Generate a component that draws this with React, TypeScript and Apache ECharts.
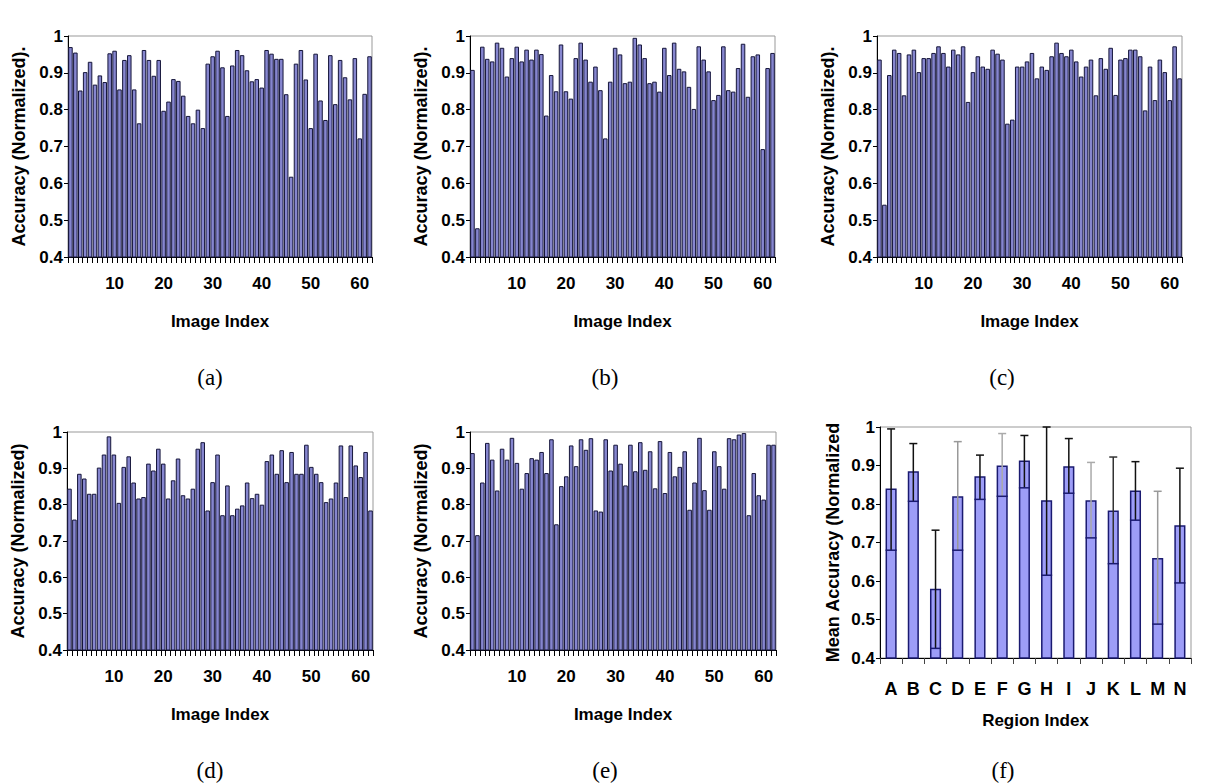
import { useEffect, useRef } from 'react';
import * as echarts from 'echarts';

// Accuracy per image (panels a-e), 62 images each
const accuracyA = [
  0.97, 0.955, 0.852, 0.902, 0.93, 0.868, 0.893, 0.875, 0.953, 0.96,
  0.855, 0.935, 0.948, 0.855, 0.763, 0.962, 0.935, 0.892, 0.935, 0.797,
  0.822, 0.883, 0.878, 0.838, 0.783, 0.763, 0.8, 0.75, 0.925, 0.945,
  0.96, 0.915, 0.783, 0.92, 0.962, 0.948, 0.907, 0.877, 0.883, 0.86,
  0.962, 0.952, 0.938, 0.938, 0.842, 0.618, 0.925, 0.962, 0.882, 0.75,
  0.952, 0.825, 0.772, 0.948, 0.815, 0.935, 0.888, 0.828, 0.94, 0.722,
  0.843, 0.945,
];
const accuracyB = [
  0.908, 0.478, 0.971, 0.938, 0.931, 0.982, 0.968, 0.89, 0.94, 0.971,
  0.931, 0.963, 0.936, 0.963, 0.951, 0.784, 0.894, 0.85, 0.977, 0.85,
  0.83, 0.94, 0.982, 0.936, 0.876, 0.917, 0.853, 0.722, 0.876, 0.968,
  0.95, 0.872, 0.876, 0.995, 0.977, 0.94, 0.872, 0.876, 0.849, 0.968,
  0.894, 0.982, 0.911, 0.904, 0.862, 0.802, 0.972, 0.936, 0.904, 0.826,
  0.84, 0.972, 0.853, 0.849, 0.913, 0.979, 0.835, 0.945, 0.95, 0.693,
  0.913, 0.954,
];
const accuracyC = [
  0.936, 0.542, 0.894, 0.963, 0.954, 0.839, 0.95, 0.963, 0.902, 0.94,
  0.94, 0.954, 0.972, 0.954, 0.917, 0.963, 0.95, 0.972, 0.821, 0.902,
  0.945, 0.917, 0.911, 0.963, 0.952, 0.936, 0.762, 0.773, 0.917, 0.917,
  0.931, 0.954, 0.885, 0.917, 0.908, 0.945, 0.982, 0.954, 0.945, 0.963,
  0.931, 0.89, 0.917, 0.936, 0.839, 0.94, 0.911, 0.968, 0.84, 0.936,
  0.94, 0.963, 0.963, 0.945, 0.798, 0.917, 0.826, 0.936, 0.902, 0.826,
  0.972, 0.885,
];
const accuracyD = [
  0.844, 0.759, 0.885, 0.872, 0.83, 0.83, 0.902, 0.938, 0.988, 0.938,
  0.805, 0.904, 0.933, 0.861, 0.817, 0.821, 0.913, 0.894, 0.954, 0.913,
  0.817, 0.867, 0.927, 0.826, 0.817, 0.844, 0.954, 0.972, 0.784, 0.862,
  0.938, 0.771, 0.853, 0.771, 0.789, 0.798, 0.861, 0.818, 0.83, 0.8,
  0.92, 0.938, 0.885, 0.95, 0.862, 0.945, 0.885, 0.885, 0.965, 0.904,
  0.885, 0.862, 0.807, 0.817, 0.861, 0.963, 0.821, 0.963, 0.908, 0.876,
  0.945, 0.784,
];
const accuracyE = [
  0.942, 0.716, 0.861, 0.97, 0.924, 0.839, 0.954, 0.924, 0.984, 0.915,
  0.844, 0.887, 0.928, 0.924, 0.945, 0.887, 0.98, 0.746, 0.851, 0.878,
  0.963, 0.906, 0.98, 0.951, 0.983, 0.784, 0.781, 0.98, 0.894, 0.965,
  0.913, 0.853, 0.965, 0.892, 0.972, 0.896, 0.947, 0.845, 0.975, 0.832,
  0.945, 0.878, 0.904, 0.947, 0.786, 0.861, 0.984, 0.84, 0.786, 0.947,
  0.906, 0.844, 0.983, 0.98, 0.993, 0.997, 0.771, 0.887, 0.826, 0.814,
  0.965, 0.965,
];
const imageIndex = accuracyA.map((_, i) => String(i + 1));

// Panel (f): mean accuracy per region with spread
const regionLabels = ['A', 'B', 'C', 'D', 'E', 'F', 'G', 'H', 'I', 'J', 'K', 'L', 'M', 'N'];
const regionMean = [0.84, 0.885, 0.58, 0.82, 0.872, 0.9, 0.913, 0.81, 0.898, 0.81, 0.783, 0.835, 0.66, 0.745];
const regionLower = [0.68, 0.807, 0.425, 0.68, 0.812, 0.82, 0.842, 0.615, 0.828, 0.712, 0.645, 0.758, 0.488, 0.595];
const regionUpper = [0.995, 0.957, 0.732, 0.962, 0.927, 0.983, 0.978, 1.0, 0.97, 0.908, 0.922, 0.91, 0.833, 0.893];
const whiskerColor = ['#111', '#111', '#111', '#999', '#111', '#aaa', '#111', '#111', '#111', '#aaa', '#333', '#111', '#999', '#111'];

const FONT = 'Liberation Sans, Arial, sans-serif';

const panels = [
  { values: accuracyA, yName: 'Accuracy (Normalized).' },
  { values: accuracyB, yName: 'Accuracy (Normalized).' },
  { values: accuracyC, yName: 'Accuracy (Normalized).' },
  { values: accuracyD, yName: 'Accuracy (Normalized)' },
  { values: accuracyE, yName: 'Accuracy (Normalized)' },
];

const grids = [
  { left: 68, top: 36, width: 304, height: 221 },
  { left: 470, top: 36, width: 305, height: 221 },
  { left: 877, top: 36, width: 305, height: 221 },
  { left: 67, top: 432, width: 306, height: 218 },
  { left: 470, top: 432, width: 306, height: 218 },
  { left: 880, top: 427, width: 311, height: 231 },
];

const captions = [
  { text: '(a)', x: 210, y: 377 },
  { text: '(b)', x: 605, y: 377 },
  { text: '(c)', x: 1002, y: 377 },
  { text: '(d)', x: 210, y: 770 },
  { text: '(e)', x: 605, y: 770 },
  { text: '(f)', x: 1003, y: 770 },
];

function yAxisFor(gridIndex: number, name: string, nameGap: number) {
  return {
    type: 'value' as const,
    gridIndex,
    min: 0.4,
    max: 1,
    interval: 0.1,
    name,
    nameLocation: 'middle' as const,
    nameGap,
    nameTextStyle: { fontSize: 18, fontWeight: 'bold', color: '#000', fontFamily: FONT },
    axisLine: { show: true, lineStyle: { color: '#000', width: 1 } },
    axisTick: { show: true, length: 4, lineStyle: { color: '#000' } },
    splitLine: { show: false },
    axisLabel: {
      fontSize: 17,
      fontWeight: 'bold',
      color: '#000',
      fontFamily: FONT,
      margin: 5,
      formatter: (v: number) => (v >= 0.999 ? '1' : v.toFixed(1)),
    },
  };
}

export default function App() {
  const ref = useRef<HTMLDivElement>(null);

  useEffect(() => {
    if (!ref.current) return;
    const chart = echarts.init(ref.current, undefined, { renderer: 'svg' });

    const xAxes: any[] = panels.map((_, i) => ({
      type: 'category',
      gridIndex: i,
      data: imageIndex,
      name: 'Image Index',
      nameLocation: 'middle',
      nameGap: 56,
      nameTextStyle: { fontSize: 17, fontWeight: 'bold', color: '#000', fontFamily: FONT },
      axisLine: { show: true, lineStyle: { color: '#000' } },
      axisTick: { show: true, interval: 0, length: 6, lineStyle: { color: '#000' } },
      axisLabel: {
        interval: (idx: number) => (idx + 1) % 10 === 0,
        fontSize: 17,
        fontWeight: 'bold',
        color: '#000',
        fontFamily: FONT,
        margin: 18,
      },
    }));
    xAxes.push({
      type: 'category',
      gridIndex: 5,
      data: regionLabels,
      name: 'Region Index',
      nameLocation: 'middle',
      nameGap: 54,
      nameTextStyle: { fontSize: 17, fontWeight: 'bold', color: '#000', fontFamily: FONT },
      axisLine: { show: true, lineStyle: { color: '#000' } },
      axisTick: { show: true, interval: 0, length: 6, lineStyle: { color: '#444' } },
      axisLabel: { fontSize: 18, fontWeight: 'bold', color: '#000', fontFamily: FONT, margin: 22 },
    });

    const yAxes: any[] = panels.map((p, i) => yAxisFor(i, p.yName, 40));
    yAxes.push(yAxisFor(5, 'Mean Accuracy (Normalized', 38));

    const series: any[] = panels.map((p, i) => ({
      type: 'bar',
      xAxisIndex: i,
      yAxisIndex: i,
      data: p.values,
      barCategoryGap: '8%',
      itemStyle: { color: '#8686cf', borderColor: '#15153a', borderWidth: 1 },
    }));
    series.push({
      type: 'bar',
      xAxisIndex: 5,
      yAxisIndex: 5,
      data: regionMean,
      barWidth: '50%',
      itemStyle: { color: '#9d9df7', borderColor: '#1a1a70', borderWidth: 1.5 },
    });
    series.push({
      type: 'custom',
      xAxisIndex: 5,
      yAxisIndex: 5,
      z: 5,
      data: regionLabels.map((_, i) => [i, regionLower[i], regionUpper[i]]),
      encode: { x: 0, y: [1, 2] },
      renderItem: (params: any, api: any) => {
        const i = api.value(0);
        const hi = api.coord([i, api.value(2)]);
        const lo = api.coord([i, api.value(1)]);
        const bw = api.size([1, 0])[0] * 0.5;
        const c = whiskerColor[params.dataIndex];
        return {
          type: 'group',
          children: [
            { type: 'line', shape: { x1: hi[0], y1: hi[1], x2: lo[0], y2: lo[1] }, style: { stroke: c, lineWidth: 1.5 } },
            { type: 'line', shape: { x1: hi[0] - 4, y1: hi[1], x2: hi[0] + 4, y2: hi[1] }, style: { stroke: c, lineWidth: 1.5 } },
            { type: 'line', shape: { x1: lo[0] - bw / 2, y1: lo[1], x2: lo[0] + bw / 2, y2: lo[1] }, style: { stroke: '#1a1a70', lineWidth: 1.5 } },
          ],
        };
      },
    });

    chart.setOption({
      animation: false,
      backgroundColor: '#fff',
      textStyle: { fontFamily: FONT },
      grid: grids.map((g) => ({ ...g, show: true, borderColor: '#999', borderWidth: 1, backgroundColor: 'transparent' })),
      xAxis: xAxes,
      yAxis: yAxes,
      series,
      graphic: captions.map((c) => ({
        type: 'text',
        x: c.x,
        y: c.y,
        style: {
          text: c.text,
          fontSize: 23,
          fontFamily: 'Liberation Serif, Times New Roman, serif',
          fill: '#000',
          textAlign: 'center',
          textVerticalAlign: 'middle',
        },
      })),
    });

    return () => chart.dispose();
  }, []);

  return (
    <div
      ref={ref}
      style={{ position: 'absolute', left: 0, top: 0, width: 1210, height: 784, background: '#fff' }}
    />
  );
}
